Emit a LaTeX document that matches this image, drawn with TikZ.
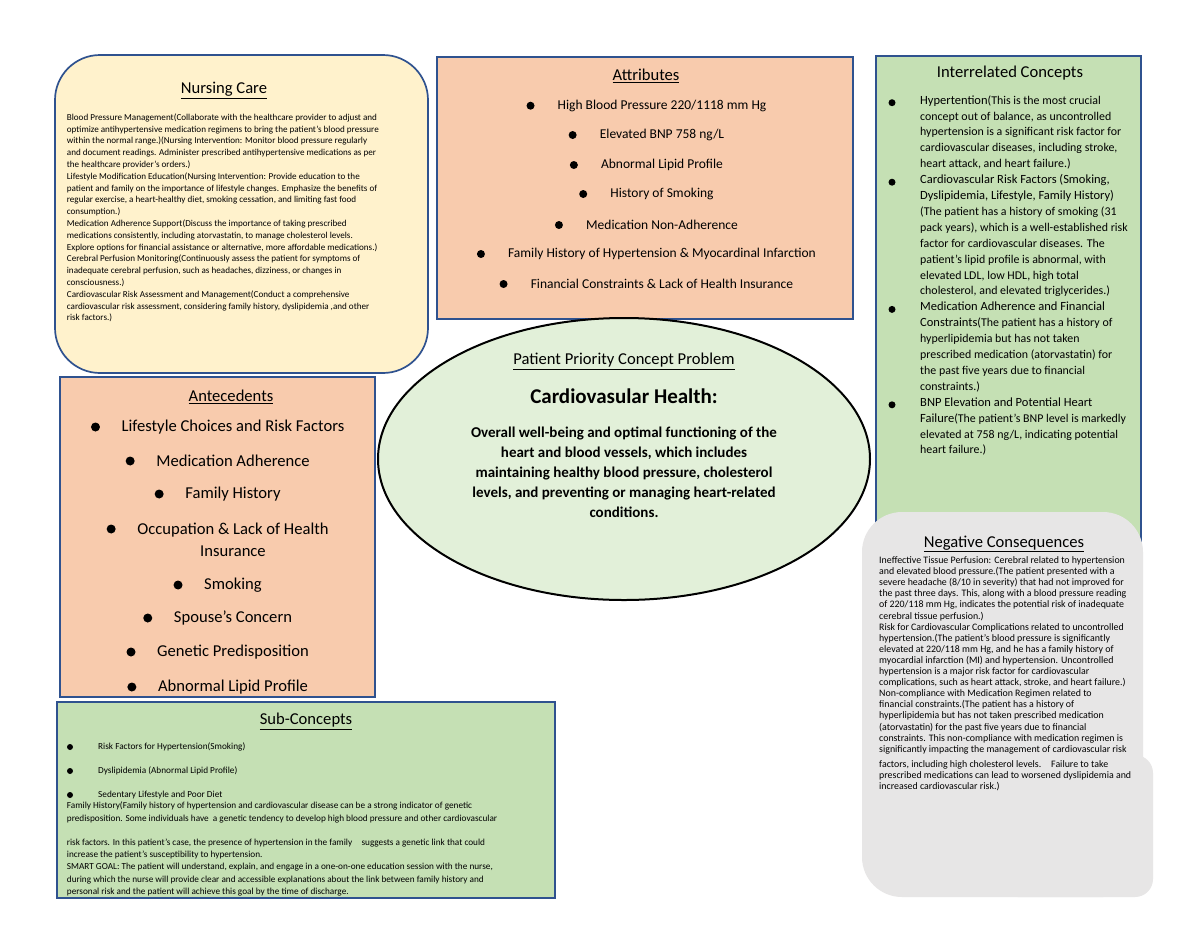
\documentclass[tikz,border=0pt]{standalone}
\usepackage{fontspec}
\setmainfont{Carlito}
\definecolor{boxblue}{HTML}{2F528F}
\definecolor{nursefill}{HTML}{FFF2CC}
\definecolor{peach}{HTML}{F8CBAD}
\definecolor{leaf}{HTML}{C5E0B4}
\definecolor{pale}{HTML}{E2F0D9}
\definecolor{ash}{HTML}{E7E6E6}
\newcommand{\hd}{\fontsize{12.5}{15.9}\selectfont}

\begin{document}
\begin{tikzpicture}[x=1pt,y=-1pt,
  box/.style={draw=boxblue,line width=1.5pt},
  title/.style={font=\fontsize{16.6}{20}\selectfont,inner sep=0pt},
  item/.style={font=\fontsize{16.6}{22}\selectfont,inner sep=0pt,align=center},
  attr/.style={font=\fontsize{13.5}{16}\selectfont,inner sep=0pt},
  smalltext/.style={align=left,anchor=north west,inner sep=0pt,execute at begin node=\strut}]
  \fill[white] (0,0) rectangle (1200,927);

  \draw[box,fill=nursefill,line width=1.7pt,rounded corners=45pt] (55,55) rectangle (428,373);
  \draw[box,fill=peach] (437,57) rectangle (853,319);
  \draw[box,fill=leaf] (876,56) rectangle (1141,560);
  \draw[box,fill=peach] (60,377) rectangle (375,697);
  \draw[box,fill=leaf] (57,702) rectangle (555,898);
  \draw[line width=2pt,fill=pale] (624,459) ellipse [x radius=246pt,y radius=141pt];
  \fill[ash,rounded corners=40pt] (862,512) rectangle (1143,897);
  \fill[ash,rounded corners=18pt] (1000,755) rectangle (1153,897);

  \node[title] (nursetitle) at (224,90.5) {\underline{Nursing Care}};
  \node[smalltext,font=\fontsize{9.1}{11.8}\selectfont] (nursetext) at (66.7,113.4) {Blood Pressure Management(Collaborate with the healthcare provider to adjust and\\
optimize antihypertensive medication regimens to bring the patient's blood pressure\\
within the normal range.)(Nursing Intervention: Monitor blood pressure regularly\\
and document readings. Administer prescribed antihypertensive medications as per\\
the healthcare provider's orders.)\\
Lifestyle Modification Education(Nursing Intervention: Provide education to the\\
patient and family on the importance of lifestyle changes. Emphasize the benefits of\\
regular exercise, a heart-healthy diet, smoking cessation, and limiting fast food\\
consumption.)\\
Medication Adherence Support(Discuss the importance of taking prescribed\\
medications consistently, including atorvastatin, to manage cholesterol levels.\\
Explore options for financial assistance or alternative, more affordable medications.)\\
Cerebral Perfusion Monitoring(Continuously assess the patient for symptoms of\\
inadequate cerebral perfusion, such as headaches, dizziness, or changes in\\
consciousness.)\\
Cardiovascular Risk Assessment and Management(Conduct a comprehensive\\
cardiovascular risk assessment, considering family history, dyslipidemia ,and other\\
risk factors.)};

  \node[title] (attrtitle) at (646,75.5) {\underline{Attributes}};
  \node[attr] (attr1) at (662,105.7) {High Blood Pressure 220/1118 mm Hg};
  \node[attr] (attr2) at (662,135) {Elevated BNP 758 ng/L};
  \node[attr] (attr3) at (662,165) {Abnormal Lipid Profile};
  \node[attr] (attr4) at (662,194) {History of Smoking};
  \node[attr] (attr5) at (662,225) {Medication Non-Adherence};
  \node[attr] (attr6) at (662,254) {Family History of Hypertension \& Myocardinal Infarction};
  \node[attr] (attr7) at (662,284) {Financial Constraints \& Lack of Health Insurance};
  \fill ([xshift=-27pt]attr1.west) circle (4pt);
  \fill ([xshift=-27pt]attr2.west) circle (4pt);
  \fill ([xshift=-27pt]attr3.west) circle (4pt);
  \fill ([xshift=-27pt]attr4.west) circle (4pt);
  \fill ([xshift=-27pt]attr5.west) circle (4pt);
  \fill ([xshift=-27pt]attr6.west) circle (4pt);
  \fill ([xshift=-27pt]attr7.west) circle (4pt);

  \node[title] (linktitle) at (1010,73) {Interrelated Concepts};
  \node[smalltext,font=\fontsize{11.9}{15.9}\selectfont] (linktext) at (920,95.2) {{\hd Hypertention}(This is the most crucial\\
concept out of balance, as uncontrolled\\
hypertension is a significant risk factor for\\
cardiovascular diseases, including stroke,\\
heart attack, and heart failure.)\\
{\hd Cardiovascular Risk Factors (Smoking,}\\
{\hd Dyslipidemia, Lifestyle, Family History)}\\
(The patient has a history of smoking (31\\
pack years), which is a well-established risk\\
factor for cardiovascular diseases. The\\
patient's lipid profile is abnormal, with\\
elevated LDL, low HDL, high total\\
cholesterol, and elevated triglycerides.)\\
{\hd Medication Adherence and Financial}\\
{\hd Constraints}(The patient has a history of\\
hyperlipidemia but has not taken\\
prescribed medication (atorvastatin) for\\
the past five years due to financial\\
constraints.)\\
{\hd BNP Elevation and Potential Heart}\\
{\hd Failure}(The patient's BNP level is markedly\\
elevated at 758 ng/L, indicating potential\\
heart failure.)};
  \fill (892,102.7) circle (3.5pt);
  \fill (892,182.2) circle (3.5pt);
  \fill (892,309.4) circle (3.5pt);
  \fill (892,404.8) circle (3.5pt);

  \node[title] (coretitle) at (624,361.5) {\underline{Patient Priority Concept Problem}};
  \node[font=\fontsize{21}{24}\selectfont\bfseries,inner sep=0pt] (corehead) at (624,396) {Cardiovasular Health:};
  \node[font=\fontsize{15}{20}\selectfont\bfseries,inner sep=0pt,align=center] (coretext) at (624,472) {Overall well-being and optimal functioning of the\\
heart and blood vessels, which includes\\
maintaining healthy blood pressure, cholesterol\\
levels, and preventing or managing heart-related\\
conditions.};

  \node[title] (antetitle) at (231,396.5) {\underline{Antecedents}};
  \node[item] (ante1) at (233,427) {Lifestyle Choices and Risk Factors};
  \node[item] (ante2) at (233,461) {Medication Adherence};
  \node[item] (ante3) at (233,494) {Family History};
  \node[item] (ante4) at (233,540) {Occupation \& Lack of Health\\Insurance};
  \node[item] (ante5) at (233,585) {Smoking};
  \node[item] (ante6) at (233,618) {Spouse’s Concern};
  \node[item] (ante7) at (233,652) {Genetic Predisposition};
  \node[item] (ante8) at (233,687) {Abnormal Lipid Profile};
  \fill ([xshift=-26pt]ante1.west) circle (4.5pt);
  \fill ([xshift=-26pt]ante2.west) circle (4.5pt);
  \fill ([xshift=-26pt]ante3.west) circle (4.5pt);
  \fill ([xshift=-26pt,yshift=11pt]ante4.west) circle (4.5pt);
  \fill ([xshift=-26pt]ante5.west) circle (4.5pt);
  \fill ([xshift=-26pt]ante6.west) circle (4.5pt);
  \fill ([xshift=-26pt]ante7.west) circle (4.5pt);
  \fill ([xshift=-26pt]ante8.west) circle (4.5pt);

  \node[title] (subtitle) at (306,721.5) {\underline{Sub-Concepts}};
  \node[font=\fontsize{9.25}{12.2}\selectfont,inner sep=0pt,anchor=west] (sub1) at (98,747) {Risk Factors for Hypertension(Smoking)};
  \node[font=\fontsize{9.25}{12.2}\selectfont,inner sep=0pt,anchor=west] (sub2) at (98,771) {Dyslipidemia (Abnormal Lipid Profile)};
  \node[font=\fontsize{9.25}{12.2}\selectfont,inner sep=0pt,anchor=west] (sub3) at (98,795) {Sedentary Lifestyle and Poor Diet};
  \fill ([xshift=-28pt]sub1.west) circle (3pt);
  \fill ([xshift=-28pt]sub2.west) circle (3pt);
  \fill ([xshift=-28pt]sub3.west) circle (3pt);
  \node[smalltext,font=\fontsize{9.25}{12.2}\selectfont] (subtext) at (66.7,802) {Family History(Family history of hypertension and cardiovascular disease can be a strong indicator of genetic\\
predisposition. Some individuals have\ \ a genetic tendency to develop high blood pressure and other cardiovascular\\[12.2pt]
risk factors. In this patient's case, the presence of hypertension in the family\quad suggests a genetic link that could\\
increase the patient's susceptibility to hypertension.\\
SMART GOAL: The patient will understand, explain, and engage in a one-on-one education session with the nurse,\\
during which the nurse will provide clear and accessible explanations about the link between family history and\\
personal risk and the patient will achieve this goal by the time of discharge.};

  \node[title] (negtitle) at (1004,544) {\underline{Negative Consequences}};
  \node[smalltext,font=\fontsize{9.9}{11.1}\selectfont] (negtext) at (879,556.5) {Ineffective Tissue Perfusion: Cerebral related to hypertension\\
and elevated blood pressure.(The patient presented with a\\
severe headache (8/10 in severity) that had not improved for\\
the past three days. This, along with a blood pressure reading\\
of 220/118 mm Hg, indicates the potential risk of inadequate\\
cerebral tissue perfusion.)\\
Risk for Cardiovascular Complications related to uncontrolled\\
hypertension.(The patient's blood pressure is significantly\\
elevated at 220/118 mm Hg, and he has a family history of\\
myocardial infarction (MI) and hypertension. Uncontrolled\\
hypertension is a major risk factor for cardiovascular\\
complications, such as heart attack, stroke, and heart failure.)\\
Non-compliance with Medication Regimen related to\\
financial constraints.(The patient has a history of\\
hyperlipidemia but has not taken prescribed medication\\
(atorvastatin) for the past five years due to financial\\
constraints. This non-compliance with medication regimen is\\
significantly impacting the management of cardiovascular risk\\[4pt]
factors, including high cholesterol levels.\quad Failure to take\\
prescribed medications can lead to worsened dyslipidemia and\\
increased cardiovascular risk.)};
\end{tikzpicture}
\end{document}
